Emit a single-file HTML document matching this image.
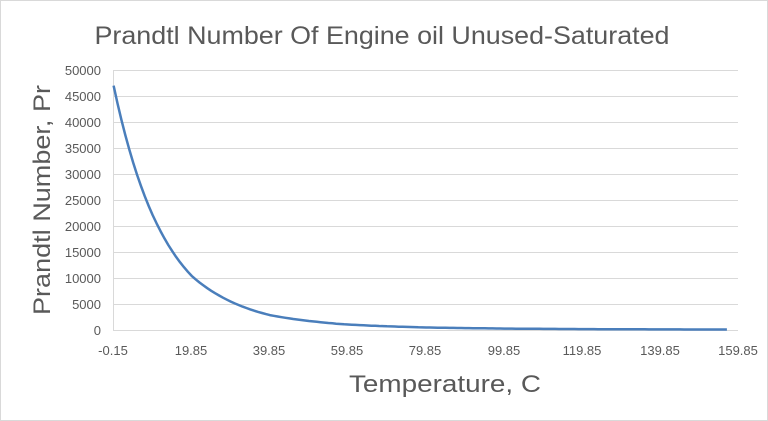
<!DOCTYPE html>
<html><head><meta charset="utf-8"><style>
html,body{margin:0;padding:0;background:#fff}
svg{display:block}
text{font-family:"Liberation Sans",sans-serif;fill:#595959}
</style></head><body>
<svg id="s" width="768" height="421" xmlns="http://www.w3.org/2000/svg">
<rect x="0.5" y="0.5" width="767" height="420" fill="#fff" stroke="#d9d9d9"/>
<text x="382" y="44" font-size="25" text-anchor="middle" textLength="575" lengthAdjust="spacingAndGlyphs">Prandtl Number Of Engine oil Unused-Saturated</text>
<g stroke="#d9d9d9" stroke-width="1">
<line x1="113" x2="738" y1="70.5" y2="70.5"/><line x1="113" x2="738" y1="96.5" y2="96.5"/>
<line x1="113" x2="738" y1="122.5" y2="122.5"/><line x1="113" x2="738" y1="148.5" y2="148.5"/>
<line x1="113" x2="738" y1="174.5" y2="174.5"/><line x1="113" x2="738" y1="200.5" y2="200.5"/>
<line x1="113" x2="738" y1="226.5" y2="226.5"/><line x1="113" x2="738" y1="252.5" y2="252.5"/>
<line x1="113" x2="738" y1="278.5" y2="278.5"/><line x1="113" x2="738" y1="304.5" y2="304.5"/>
<line x1="113" x2="738" y1="330.5" y2="330.5"/>
<line x1="113.5" x2="113.5" y1="70" y2="330"/>
</g>
<g font-size="13" text-anchor="end">
<text x="101" y="75">50000</text><text x="101" y="101">45000</text><text x="101" y="127">40000</text>
<text x="101" y="153">35000</text><text x="101" y="179">30000</text><text x="101" y="205">25000</text>
<text x="101" y="231">20000</text><text x="101" y="257">15000</text><text x="101" y="283">10000</text>
<text x="101" y="309">5000</text><text x="101" y="335">0</text>
</g>
<g font-size="13" text-anchor="middle">
<text x="113" y="355">-0.15</text><text x="191" y="355">19.85</text><text x="269" y="355">39.85</text>
<text x="347" y="355">59.85</text><text x="425" y="355">79.85</text><text x="504" y="355">99.85</text>
<text x="582" y="355">119.85</text><text x="660" y="355">139.85</text><text x="738" y="355">159.85</text>
</g>
<text x="445" y="392" font-size="24" text-anchor="middle" textLength="192" lengthAdjust="spacingAndGlyphs">Temperature, C</text>
<text transform="translate(50,200) rotate(-90)" font-size="24" text-anchor="middle" textLength="230" lengthAdjust="spacingAndGlyphs">Prandtl Number, Pr</text>
<path id="c" fill="none" stroke="#4a7ebb" stroke-width="2.5" stroke-linejoin="round"/>
</svg>
<script>
var T=[0,20,40,60,80,100,120,140,160],P=[47000,10400,2870,1050,490,276,175,116,84];
var d="";
for(var t=0;t<=157;t+=1){var i=Math.min(7,Math.floor(t/20)),f=(t-T[i])/20;
var v=Math.exp(Math.log(P[i])*(1-f)+Math.log(P[i+1])*f);
var x=113+(t+0.15)*625/160,y=330-v*260/50000;d+=(t?"L":"M")+x.toFixed(1)+","+y.toFixed(1);}
document.getElementById("c").setAttribute("d",d);
</script>
</body></html>
